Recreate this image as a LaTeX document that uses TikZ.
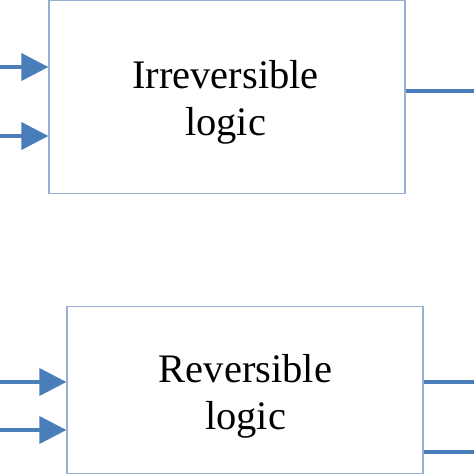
\documentclass[tikz,border=0pt]{standalone}
\usepackage{fontspec}
\setmainfont{Liberation Serif}
\usetikzlibrary{arrows.meta}
\usetikzlibrary{positioning,calc}
\definecolor{wireblue}{RGB}{74,126,187}
\definecolor{boxblue}{RGB}{149,176,210}

\begin{document}
\begin{tikzpicture}[x=1pt,y=-1pt,
         gatebox/.style = {draw=boxblue,line width=1.2pt,rectangle,
         inner sep=0pt,minimum width=356pt},
         gatetext/.style = {align=center,inner sep=0pt,anchor=base,
         font=\fontsize{40.5}{47}\selectfont},
         inwire/.style = {wireblue,line width=3.8pt,
         -{Triangle[length=27pt,width=27pt]}},
         outwire/.style = {wireblue,line width=3.8pt}]

   \useasboundingbox (0,0) rectangle (474,474);

   % irreversible gate
   \node[gatebox,minimum height=193pt] (irr) at (227,97) {};
   \node[gatetext] (irrtext) at (225.5,135) {Irreversible\\logic};

   \coordinate (irrin1)  at (0,67);
   \coordinate (irrin2)  at (0,136);
   \coordinate (irrout1) at (474,91);

   \draw[inwire]  (irrin1) -- (irrin1 -| irr.west);
   \draw[inwire]  (irrin2) -- (irrin2 -| irr.west);
   \draw[outwire] (irrout1 -| irr.east) -- (irrout1);

   % reversible gate
   \node[gatebox,minimum height=167pt] (rev) at (245,390) {};
   \node[gatetext] (revtext) at (245.5,429) {Reversible\\logic};

   \coordinate (revin1)  at (0,382);
   \coordinate (revin2)  at (0,430);
   \coordinate (revout1) at (474,382);
   \coordinate (revout2) at (474,452);

   \draw[inwire]  (revin1) -- (revin1 -| rev.west);
   \draw[inwire]  (revin2) -- (revin2 -| rev.west);
   \draw[outwire] (revout1 -| rev.east) -- (revout1);
   \draw[outwire] (revout2 -| rev.east) -- (revout2);

\end{tikzpicture}
\end{document}
